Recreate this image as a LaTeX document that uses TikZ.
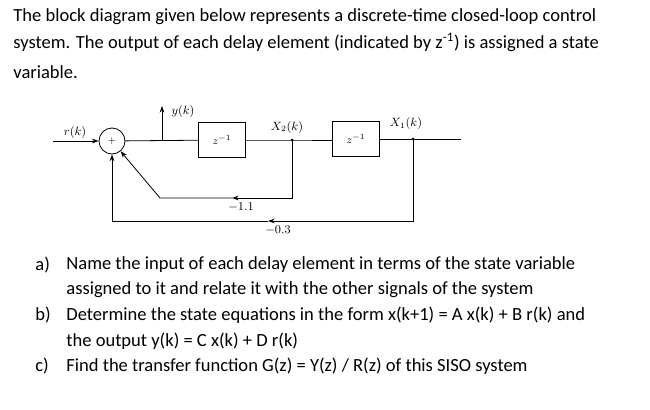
\documentclass[tikz,border=0pt]{standalone}
\usepackage{fontspec}
\setmainfont{Carlito}
\usetikzlibrary{arrows.meta,positioning}

\tikzset{
  delay/.style={draw, minimum width=35pt, minimum height=26pt, inner sep=0pt, font=\footnotesize},
  sumnode/.style={draw, circle, minimum size=19.5pt, inner sep=0pt, font=\scriptsize},
  sig/.style={-{Stealth[length=5pt,width=3.5pt]}},
  lbl/.style={font=\small, inner sep=1pt},
  para/.style={anchor=west, inner sep=0pt, font=\fontsize{13.9pt}{16pt}\selectfont}
}

\begin{document}
\begin{tikzpicture}[x=0.75pt,y=-0.75pt, semithick]
        \useasboundingbox (0,0) rectangle (650,410);

        % problem statement
        \node[para] (intro1) at (13,17) {The block diagram given below represents a discrete-time closed-loop control};
        \node[para] (intro2) at (13,42) {system. The output of each delay element (indicated by z\textsuperscript{-1}) is assigned a state};
        \node[para] (intro3) at (13,72) {variable.};

        % block diagram
        \coordinate (rin) at (53,141);
        \node[sumnode] (sum) at (112,141) {$+$};
        \node[delay] (dl1) at (222,140) {$z^{-1}$};
        \node[delay] (dl2) at (356,139) {$z^{-1}$};

        \coordinate (ybr) at (162,140);
        \coordinate (ytop) at (162,106);
        \coordinate (x2) at (292,140);
        \coordinate (x1) at (413,139);
        \coordinate (xend) at (461,139);
        \coordinate (fb1a) at (232,198);
        \coordinate (fb1b) at (160,198);
        \coordinate (fb2a) at (268,221);
        \coordinate (fb2b) at (112,221);

        \draw[sig] (rin) -- (sum);
        \node[lbl, above] (rlab) at (75,140) {$r(k)$};
        \draw (sum) -- (dl1);
        \draw[sig] (ybr) -- (ytop);
        \node[lbl] (ylab) at (183,112) {$y(k)$};
        \draw (dl1) -- (x2) -- (dl2.west |- x2);
        \draw (dl2.east |- x1) -- (xend);
        \fill (x2) circle (1.5);
        \fill (x1) circle (1.5);
        \node[lbl] (x2lab) at (287,127) {$X_2(k)$};
        \node[lbl] (x1lab) at (406,124) {$X_1(k)$};

        % feedback paths
        \draw[sig] (x2) |- (fb1a);
        \draw[sig] (fb1a) -- (fb1b) -- (sum.-50);
        \node[lbl] (g1) at (241,207) {$-1.1$};
        \draw[sig] (x1) |- (fb2a);
        \draw[sig] (fb2a) -- (fb2b) -- (sum.south);
        \node[lbl] (g2) at (278,230) {$-0.3$};

        % questions
        \node[para] (qa) at (35,265) {a)};
        \node[para] (qa1) at (66,265) {Name the input of each delay element in terms of the state variable};
        \node[para] (qa2) at (66,290) {assigned to it and relate it with the other signals of the system};
        \node[para] (qb) at (35,315) {b)};
        \node[para] (qb1) at (66,315) {Determine the state equations in the form x(k+1) = A x(k) + B r(k) and};
        \node[para] (qb2) at (66,341) {the output y(k) = C x(k) + D r(k)};
        \node[para] (qc) at (35,366) {c)};
        \node[para] (qc1) at (66,366) {Find the transfer function G(z) = Y(z) / R(z) of this SISO system};
\end{tikzpicture}
\end{document}
